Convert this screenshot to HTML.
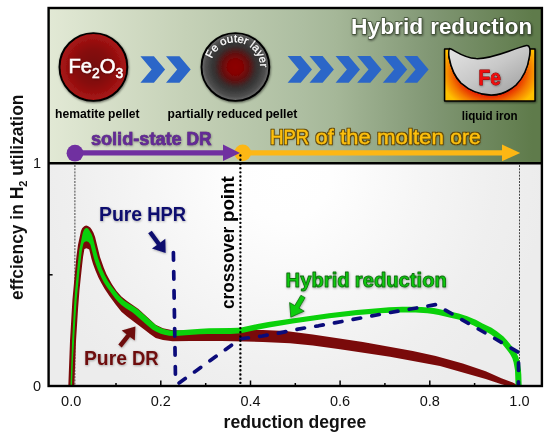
<!DOCTYPE html>
<html lang="en">
<head>
<meta charset="utf-8">
<title>Hybrid reduction</title>
<style>
html,body{margin:0;padding:0;background:#fff;}
body{width:550px;height:438px;overflow:hidden;}
svg{display:block;}
text{font-family:"Liberation Sans",sans-serif;}
.b{font-weight:700;}
</style>
</head>
<body>
<svg width="550" height="438" viewBox="0 0 550 438">
<defs>
  <linearGradient id="banner" x1="0" y1="0" x2="1" y2="0">
    <stop offset="0" stop-color="#e2e9d5"/>
    <stop offset="0.278" stop-color="#c5d1b7"/>
    <stop offset="0.514" stop-color="#adbea1"/>
    <stop offset="0.583" stop-color="#a5b798"/>
    <stop offset="0.774" stop-color="#819774"/>
    <stop offset="0.98" stop-color="#5f7b4b"/>
    <stop offset="1" stop-color="#5f7b4b"/>
  </linearGradient>
  <radialGradient id="plotbg" gradientUnits="userSpaceOnUse" cx="285" cy="172" r="262">
    <stop offset="0" stop-color="#ffffff"/>
    <stop offset="0.18" stop-color="#fefefe"/>
    <stop offset="0.5" stop-color="#f6f6f6"/>
    <stop offset="0.8" stop-color="#efefef"/>
    <stop offset="1" stop-color="#ececec"/>
  </radialGradient>
  <radialGradient id="hem" cx="0.5" cy="0.5" r="0.5">
    <stop offset="0" stop-color="#740808"/>
    <stop offset="0.5" stop-color="#860c0c"/>
    <stop offset="1" stop-color="#aa1515"/>
  </radialGradient>
  <radialGradient id="part" cx="0.5" cy="0.5" r="0.5">
    <stop offset="0" stop-color="#8c0000"/>
    <stop offset="0.2" stop-color="#860202"/>
    <stop offset="0.42" stop-color="#5e1212"/>
    <stop offset="0.58" stop-color="#3a2c2c"/>
    <stop offset="0.7" stop-color="#383838"/>
    <stop offset="0.88" stop-color="#4e4e4e"/>
    <stop offset="1" stop-color="#707070"/>
  </radialGradient>
  <radialGradient id="cruc" gradientUnits="userSpaceOnUse" cx="490" cy="72" r="50" gradientTransform="translate(490 72) scale(1 0.8) translate(-490 -72)">
    <stop offset="0" stop-color="#e00000"/>
    <stop offset="0.55" stop-color="#e01000"/>
    <stop offset="0.8" stop-color="#f47a00"/>
    <stop offset="1" stop-color="#ffc000"/>
  </radialGradient>
  <linearGradient id="iron" x1="0" y1="0" x2="1" y2="1">
    <stop offset="0" stop-color="#e6e6e6"/>
    <stop offset="0.5" stop-color="#c8c8c8"/>
    <stop offset="1" stop-color="#9a9a9a"/>
  </linearGradient>
  <filter id="sh" x="-20%" y="-20%" width="140%" height="150%">
    <feDropShadow dx="0.6" dy="1" stdDeviation="0.9" flood-color="#000" flood-opacity="0.55"/>
  </filter>
  <filter id="shl" x="-20%" y="-20%" width="140%" height="150%">
    <feDropShadow dx="0.5" dy="0.8" stdDeviation="0.8" flood-color="#000" flood-opacity="0.35"/>
  </filter>
  <filter id="olY" x="-5%" y="-30%" width="110%" height="170%">
    <feMorphology in="SourceAlpha" operator="dilate" radius="0.55" result="d"/>
    <feGaussianBlur in="d" stdDeviation="0.35" result="db"/>
    <feFlood flood-color="#5e4100" flood-opacity="0.95"/><feComposite in2="db" operator="in" result="o"/>
    <feGaussianBlur in="SourceAlpha" stdDeviation="0.9" result="sb"/><feOffset in="sb" dx="0.5" dy="0.9" result="so"/>
    <feFlood flood-color="#000" flood-opacity="0.4"/><feComposite in2="so" operator="in" result="s"/>
    <feMerge><feMergeNode in="s"/><feMergeNode in="o"/><feMergeNode in="SourceGraphic"/></feMerge>
  </filter>
  <path id="arc" d="M 210.79 64.85 A 24.7 24.7 0 1 1 259.26 73.39"/>
  <clipPath id="plotclip"><rect x="48.6" y="163.6" width="493.3" height="222.4"/></clipPath>
</defs>

<rect x="0" y="0" width="550" height="438" fill="#ffffff"/>
<!-- backgrounds -->
<rect x="48.6" y="8" width="493.3" height="155.6" fill="url(#banner)"/>
<rect x="48.6" y="163.6" width="493.3" height="222.4" fill="url(#plotbg)"/>

<!-- thin dotted guides -->
<g stroke="#333" stroke-width="0.9" stroke-dasharray="2 1.2" fill="none">
  <line x1="74.9" y1="165" x2="74.9" y2="386"/>
  <line x1="519.5" y1="165" x2="519.5" y2="386"/>
</g>

<!-- pure DR (dark red) -->
<g stroke="#000" stroke-width="1.5"><line x1="71.2" y1="386" x2="71.2" y2="380.5"/><line x1="116.0" y1="386" x2="116.0" y2="383.0"/><line x1="160.8" y1="386" x2="160.8" y2="380.5"/><line x1="205.7" y1="386" x2="205.7" y2="383.0"/><line x1="250.5" y1="386" x2="250.5" y2="380.5"/><line x1="295.3" y1="386" x2="295.3" y2="383.0"/><line x1="340.1" y1="386" x2="340.1" y2="380.5"/><line x1="384.9" y1="386" x2="384.9" y2="383.0"/><line x1="429.8" y1="386" x2="429.8" y2="380.5"/><line x1="474.6" y1="386" x2="474.6" y2="383.0"/><line x1="519.4" y1="386" x2="519.4" y2="380.5"/><line x1="48.6" y1="274.8" x2="52.6" y2="274.8"/></g>
<g clip-path="url(#plotclip)">
<g id="pure-dr"><path d="M89.2 249.4 L91.5 259.0 L93.0 264.0 L95.6 271.1 L98.5 277.8 L101.4 283.3 L104.7 288.9 L109.4 295.9 L116.0 305.0 L121.4 311.8 L127.0 316.6 L144.2 329.4 L150.0 334.0 L155.7 337.9 L163.0 340.0 L172.7 341.3 L190.0 341.0 L222.0 341.1 L262.8 342.0 L290.0 343.3 L312.8 345.6 L340.0 349.3 L390.0 356.8 L440.0 366.0 L485.7 379.0 L501.4 384.2 L508.0 386.0 L519.0 386.0 L512.8 382.6 L501.4 378.2 L485.7 371.2 L462.8 363.4 L435.7 356.0 L412.8 351.0 L362.8 341.9 L312.8 334.5 L285.7 331.1 L262.8 330.0 L190.0 330.6 L172.7 330.3 L163.0 328.3 L155.7 324.8 L138.5 308.9 L127.0 300.9 L121.4 296.6 L116.6 291.1 L112.0 284.3 L109.2 279.3 L106.5 274.2 L103.8 267.8 L100.0 256.9 L95.1 237.1 L93.5 232.8 L91.7 229.5 L90.2 227.5 L87.9 225.9 L86.2 225.6 L84.6 226.0 L83.1 227.2 L82.0 228.4 L80.9 231.2 L78.0 244.8 L76.5 255.8 L72.4 300.2 L70.0 341.1 L68.3 386.0 L74.3 386.0 L76.0 341.4 L78.1 307.9 L79.5 290.0 L82.0 266.2 L83.1 256.8 L84.4 249.1 L86.5 248.3Z" fill="#7a0a0a"/></g>
<g id="hybrid"><path d="M86.5 241.2 L88.5 242.0 L90.4 244.5 L94.0 258.6 L95.5 263.3 L98.1 270.3 L101.1 277.0 L103.9 282.5 L107.2 287.6 L115.2 298.4 L118.5 302.3 L121.4 305.0 L125.4 307.9 L132.2 312.3 L135.0 314.4 L146.6 324.7 L152.3 329.4 L155.8 331.5 L160.7 333.7 L164.3 334.8 L169.1 335.7 L175.6 336.0 L199.7 334.3 L208.1 334.0 L230.9 333.9 L238.2 333.6 L242.0 333.1 L258.6 329.4 L269.2 327.4 L292.8 323.6 L329.6 318.3 L355.8 315.3 L379.6 313.3 L396.3 312.6 L415.4 312.6 L427.3 313.3 L433.0 313.9 L438.7 314.9 L451.5 317.9 L458.3 319.6 L464.9 321.8 L473.5 325.6 L479.9 329.0 L488.4 333.1 L491.3 334.8 L496.8 339.1 L499.4 341.2 L501.8 343.6 L507.0 349.9 L510.3 354.5 L512.4 358.4 L513.6 362.4 L515.0 370.3 L515.6 386.0 L521.7 386.0 L521.3 374.6 L520.9 369.6 L520.0 363.4 L518.4 357.2 L516.2 352.3 L513.3 348.0 L507.2 340.4 L503.5 336.6 L496.8 331.2 L491.6 327.7 L482.6 323.4 L476.3 320.1 L467.3 316.2 L458.8 313.5 L440.0 309.2 L434.0 308.1 L421.6 307.1 L409.5 306.7 L402.2 306.8 L389.0 307.3 L380.5 307.9 L356.5 310.1 L328.9 313.2 L292.0 318.4 L268.2 322.1 L257.4 324.0 L241.2 327.4 L237.8 327.8 L230.7 328.1 L209.1 328.3 L200.7 328.7 L176.7 330.6 L170.0 330.4 L165.6 329.6 L162.3 328.6 L158.5 326.8 L155.7 325.1 L138.7 310.0 L134.5 307.0 L127.1 302.6 L123.5 300.1 L118.6 295.3 L111.3 286.1 L107.5 280.2 L104.7 275.1 L101.8 268.7 L97.9 257.6 L92.9 237.8 L91.6 234.3 L89.0 229.7 L88.0 228.6 L86.6 228.0 L85.9 228.1 L84.2 229.4 L83.1 232.0 L82.4 234.5 L79.3 250.0 L77.7 264.4 L75.2 289.5 L74.3 301.5 L72.1 341.1 L70.5 386.0 L72.0 386.0 L73.0 359.2 L75.3 319.7 L76.7 299.3 L80.0 265.9 L81.9 250.5 L83.4 243.6 L84.5 242.0Z" fill="#0bd10b"/></g>
<g id="pure-hpr" fill="none" stroke="#0b0b7a" stroke-width="3.7" stroke-dasharray="7.6 11.4" stroke-linecap="round" stroke-linejoin="round">
  <polyline points="173.4,252.6 175.6,385.5"/>
  <polyline points="175.6,385.5 240.4,338.8 262.3,336.0 281.0,332.6 299.7,328.8 318.5,325.8 336.0,322.6 362.8,317.6 385.7,313.3 412.0,308.8 431.5,305.4 435.9,304.6 444.0,309.3 460.8,319.0 477.1,328.3 485.7,333.2 518.6,352.5 518.4,387.0" stroke-dashoffset="14.7"/>
</g>
</g>
<!-- crossover dotted line -->


<!-- frame -->
<line x1="48.6" y1="163.3" x2="541.9" y2="163.3" stroke="#000" stroke-width="2.4"/>
<rect x="48.6" y="8" width="493.3" height="378" fill="none" stroke="#000" stroke-width="2.4"/>

<!-- tick labels -->
<g font-size="14.5" fill="#111"><text x="71.2" y="406" text-anchor="middle">0.0</text><text x="160.8" y="406" text-anchor="middle">0.2</text><text x="250.5" y="406" text-anchor="middle">0.4</text><text x="340.1" y="406" text-anchor="middle">0.6</text><text x="429.8" y="406" text-anchor="middle">0.8</text><text x="519.4" y="406" text-anchor="middle">1.0</text>
  <text x="41" y="167.7" text-anchor="end">1</text>
  <text x="41" y="390.8" text-anchor="end">0</text>
</g>
<text class="b" x="223.6" y="428.2" font-size="17.5" textLength="142.6" lengthAdjust="spacingAndGlyphs" fill="#111">reduction degree</text>
<text class="b" transform="translate(22.8 300) rotate(-90)" font-size="17.5" textLength="205.5" lengthAdjust="spacingAndGlyphs" fill="#111">effciency in H<tspan font-size="11" dy="4.5">2</tspan><tspan dy="-4.5"> utilization</tspan></text>

<!-- plot annotations -->
<text class="b" transform="translate(234.4 309) rotate(-90)" font-size="17.8" fill="#000"><tspan x="0.0" textLength="82.3" lengthAdjust="spacingAndGlyphs">crossover</tspan> <tspan x="87.0" textLength="45.7" lengthAdjust="spacingAndGlyphs">point</tspan></text>

<g filter="url(#shl)">
  <text class="b" x="99" y="221.3" font-size="19.5" fill="#0b0b6e"><tspan x="99.0" textLength="43.1" lengthAdjust="spacingAndGlyphs">Pure</tspan> <tspan x="147.2" textLength="38.8" lengthAdjust="spacingAndGlyphs">HPR</tspan></text>
  <polygon points="148.2,233.3 156.9,245.0 152.0,248.6 165.6,253.0 165.3,238.7 160.4,242.4 151.8,230.7" fill="#0b0b6e"/>
  <text class="b" x="84" y="365.2" font-size="19.5" fill="#6e0c0c"><tspan x="84.0" textLength="42.9" lengthAdjust="spacingAndGlyphs">Pure</tspan> <tspan x="131.9" textLength="26.7" lengthAdjust="spacingAndGlyphs">DR</tspan></text>
  <polygon points="121.7,347.4 130.0,336.9 134.8,340.6 135.4,326.4 121.7,330.4 126.5,334.2 118.3,344.6" fill="#6e0c0c"/>
</g>
<g filter="url(#shl)">
  <text class="b" x="285.5" y="286.8" font-size="20" fill="#10cc10" stroke="#107010" stroke-width="0.9" stroke-linejoin="round"><tspan x="285.6" textLength="64.0" lengthAdjust="spacingAndGlyphs">Hybrid</tspan> <tspan x="354.8" textLength="92.1" lengthAdjust="spacingAndGlyphs">reduction</tspan></text>
  <polygon points="300.9,295.3 294.8,305.6 289.6,302.6 290.8,317.2 304.2,311.2 299.0,308.1 305.1,297.7" fill="#10cc10" stroke="#107010" stroke-width="0.8"/>
</g>

<!-- banner contents -->
<g id="hematite">
  <circle cx="93.4" cy="67" r="33.9" fill="url(#hem)" stroke="#000" stroke-width="1.9" filter="url(#sh)"/>
  <text x="68.5" y="73.2" font-size="20.5" fill="#fff" stroke="#fff" stroke-width="0.55" textLength="54.7" lengthAdjust="spacingAndGlyphs" filter="url(#shl)">Fe<tspan font-size="14" dy="5">2</tspan><tspan dy="-5">O</tspan><tspan font-size="14" dy="5">3</tspan></text>
  <text class="b" x="55.1" y="117.6" font-size="12" fill="#000"><tspan x="55.1" textLength="50.0" lengthAdjust="spacingAndGlyphs">hematite</tspan> <tspan x="108.1" textLength="31.5" lengthAdjust="spacingAndGlyphs">pellet</tspan></text>
</g>
<g fill="#2b66c8"><polygon points="140.4,56.2 153.9,56.2 165.1,69.5 153.9,82.8 140.4,82.8 151.6,69.5"/><polygon points="166.0,56.2 179.5,56.2 190.7,69.5 179.5,82.8 166.0,82.8 177.2,69.5"/><polygon points="287.6,56.1 300.7,56.1 312.0,69.4 300.7,82.7 287.6,82.7 298.9,69.4"/><polygon points="309.5,56.1 322.6,56.1 333.9,69.4 322.6,82.7 309.5,82.7 320.8,69.4"/><polygon points="335.6,56.1 348.7,56.1 360.0,69.4 348.7,82.7 335.6,82.7 346.9,69.4"/><polygon points="357.2,56.1 370.3,56.1 381.6,69.4 370.3,82.7 357.2,82.7 368.5,69.4"/><polygon points="382.8,56.1 395.9,56.1 407.2,69.4 395.9,82.7 382.8,82.7 394.1,69.4"/><polygon points="404.2,56.1 417.3,56.1 428.6,69.4 417.3,82.7 404.2,82.7 415.5,69.4"/></g>
<g id="partial">
  <circle cx="235.4" cy="67" r="33.9" fill="url(#part)" stroke="#000" stroke-width="1.9" filter="url(#sh)"/>
  <text font-size="11.2" fill="#fff" stroke="#fff" stroke-width="0.2" filter="url(#shl)"><textPath href="#arc" startOffset="6.04" textLength="69.5" lengthAdjust="spacingAndGlyphs">Fe outer layer</textPath></text>
  <text class="b" x="167.6" y="118" font-size="12" fill="#000"><tspan x="167.6" textLength="46.2" lengthAdjust="spacingAndGlyphs">partially</tspan> <tspan x="216.8" textLength="45.6" lengthAdjust="spacingAndGlyphs">reduced</tspan> <tspan x="265.4" textLength="32.0" lengthAdjust="spacingAndGlyphs">pellet</tspan></text>
</g>
<g id="liquid">
  <path d="M 444.6 49 L 449.6 49 C 449 53, 449 55, 449 57 C 451 68, 455 77, 461 83 C 470 91, 480 94.8, 491 95 C 500 95.2, 508 92, 516 85 C 525 76, 528 66, 529.5 56 L 530 49 L 535 49 L 535 101 L 444.6 101 Z" fill="url(#cruc)" stroke="#000" stroke-width="1.5" stroke-linejoin="round" filter="url(#sh)"/>
  <path d="M 449.6 48.6 C 455 50, 462 57.5, 476 58.6 C 492 59.5, 512 49, 526.5 45.6 C 530 45.2, 530.5 50, 529.5 56 C 528 66, 525 76, 516 85 C 508 92, 500 95.2, 491 95 C 480 94.8, 470 91, 461 83 C 455 77, 451 68, 449 57 C 448.5 53, 448.6 50, 449.6 48.6 Z" fill="url(#iron)" stroke="#000" stroke-width="1.5" stroke-linejoin="round"/>
  <text class="b" x="478.6" y="85" font-size="22.5" textLength="22.4" lengthAdjust="spacingAndGlyphs" fill="#ee1111" stroke="#7a0000" stroke-width="0.9" paint-order="stroke" stroke-linejoin="round" filter="url(#shl)">Fe</text>
  <text class="b" x="461.7" y="119.5" font-size="12" fill="#000"><tspan x="461.7" textLength="31.0" lengthAdjust="spacingAndGlyphs">liquid</tspan> <tspan x="495.7" textLength="21.9" lengthAdjust="spacingAndGlyphs">iron</tspan></text>
</g>
<text class="b" x="351.6" y="33.5" font-size="22.3" fill="#fff" stroke="#3b4a30" stroke-width="1.4" paint-order="stroke" stroke-linejoin="round" filter="url(#sh)"><tspan x="351.0" textLength="72.2" lengthAdjust="spacingAndGlyphs">Hybrid</tspan> <tspan x="430.2" textLength="102.0" lengthAdjust="spacingAndGlyphs">reduction</tspan></text>

<!-- process arrows -->
<g id="hpr-arrow">
  <circle cx="242.7" cy="152.9" r="8.3" fill="#fdb714"/>
  <line x1="242" y1="152.9" x2="504" y2="152.9" stroke="#fdb714" stroke-width="5.3"/>
  <polygon points="502,144.6 520.2,152.9 502,161.3" fill="#fdb714"/>
  <text x="270.4" y="144" font-size="20.6" fill="#fdc010" stroke="#fdc010" stroke-width="0.3" stroke-linejoin="round" filter="url(#olY)"><tspan x="270.2" textLength="38.8" lengthAdjust="spacingAndGlyphs">HPR</tspan> <tspan x="315.5" textLength="18.2" lengthAdjust="spacingAndGlyphs">of</tspan> <tspan x="340.2" textLength="30.4" lengthAdjust="spacingAndGlyphs">the</tspan> <tspan x="377.1" textLength="66.7" lengthAdjust="spacingAndGlyphs">molten</tspan> <tspan x="450.3" textLength="30.4" lengthAdjust="spacingAndGlyphs">ore</tspan></text>
</g>
<g id="dr-arrow">
  <circle cx="75" cy="153.2" r="8.4" fill="#7030a0"/>
  <line x1="75" y1="152.9" x2="225" y2="152.9" stroke="#7030a0" stroke-width="5.3"/>
  <polygon points="223,144.6 240,152.9 223,161.1" fill="#7030a0"/>
  <text class="b" x="90.6" y="145.4" font-size="19.2" fill="#642a96" stroke="#3f1566" stroke-width="0.6" paint-order="stroke" filter="url(#shl)"><tspan x="90.9" textLength="90.8" lengthAdjust="spacingAndGlyphs">solid-state</tspan> <tspan x="186.4" textLength="25.1" lengthAdjust="spacingAndGlyphs">DR</tspan></text>
</g>
<!-- crossover dots over the yellow circle -->
<line x1="240.4" y1="155.5" x2="240.4" y2="385" stroke="#000" stroke-width="2.4" stroke-dasharray="0.01 4.2" stroke-linecap="round"/>
</svg>
</body>
</html>
